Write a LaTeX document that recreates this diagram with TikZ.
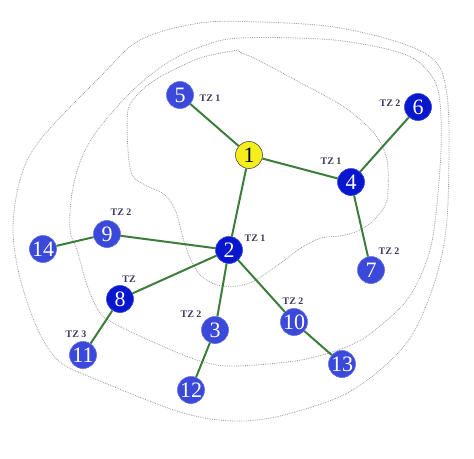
\documentclass[tikz,border=0pt]{standalone}
\usepackage{fontspec}
\setmainfont{Liberation Serif}
\definecolor{darkblue}{HTML}{0816CE}
\definecolor{lightblue}{HTML}{3B49DB}
\definecolor{nodeyellow}{HTML}{F4EE1C}
\definecolor{edgegreen}{HTML}{3C7D3A}
\definecolor{tzcolor}{HTML}{3A3A5C}
\definecolor{curvegray}{HTML}{9C9C9C}
\tikzset{
  base/.style={circle, minimum size=27pt, inner sep=0pt, font=\fontsize{22}{22}\selectfont, text=white, line width=0.6pt},
  dnode/.style={base, fill=darkblue, draw=darkblue!80!white},
  lnode/.style={base, fill=lightblue, draw=lightblue!80!white},
  ynode/.style={base, fill=nodeyellow, draw=black!70, text=black},
  tz/.style={font=\fontsize{10}{10}\selectfont\bfseries, text=tzcolor, inner sep=0pt},
  edge/.style={draw=edgegreen, line width=2pt},
  region/.style={draw=curvegray, densely dotted, line width=0.8pt}
}
\begin{document}
\begin{tikzpicture}[x=1pt,y=-1pt]
\useasboundingbox (0,0) rectangle (474,458);
% region contours
\draw[region] plot[smooth cycle, tension=0.55] coordinates {(13,230) (20,180) (40,140) (100,77) (140,40) (200,23) (260,22) (334,27) (401,43) (436,62) (447,95) (449,150) (446,230) (432,290) (405,345) (351,391) (284,415) (234,421) (180,412) (100,381) (60,362) (38,330) (20,278)};
\draw[region] plot[smooth cycle, tension=0.55] coordinates {(70,230) (72,193) (82,157) (100,127) (133,90) (167,63) (200,47) (240,38) (334,40) (401,53) (427,70) (439,95) (441,150) (434,230) (424,268) (407,300) (380,326) (351,345) (301,360) (234,366) (200,361) (160,345) (117,325) (100,313) (87,285) (77,250)};
\draw[region] plot[smooth, tension=0.5] coordinates {(241,53) (256,59) (301,83) (344,107) (374,133) (387,160) (387,200) (374,220) (358,231) (340,236) (321,238) (301,248) (274,268) (254,281) (238,286) (217,285) (200,275) (190,258) (183,238) (176,212) (165,195) (145,185) (132,175) (128,150) (128,110) (140,92) (160,77) (200,58) (238,50)} -- cycle;
% nodes
\node[ynode] (n1) at (249,155) {1};
\node[dnode] (n2) at (229,250) {2};
\node[lnode] (n3) at (215,330) {3};
\node[dnode] (n4) at (351,182) {4};
\node[lnode] (n5) at (180,95) {5};
\node[dnode] (n6) at (418,107) {6};
\node[lnode] (n7) at (371,270) {7};
\node[dnode] (n8) at (120,299) {8};
\node[lnode] (n9) at (107,234) {9};
\node[lnode] (n10) at (294,322) {10};
\node[lnode] (n11) at (83,355) {11};
\node[lnode] (n12) at (191,390) {12};
\node[lnode] (n13) at (342,364) {13};
\node[lnode] (n14) at (43,249) {14};
% labels
\node[tz] (t5) at (210,98) {TZ 1};
\node[tz] (t6) at (390,103) {TZ 2};
\node[tz] (t4) at (331,161) {TZ 1};
\node[tz] (t9) at (121,212) {TZ 2};
\node[tz] (t2) at (255,238) {TZ 1};
\node[tz] (t7) at (389,251) {TZ 2};
\node[tz] (t8) at (129,279) {TZ};
\node[tz] (t3) at (191,314) {TZ 2};
\node[tz] (t10) at (293,301) {TZ 2};
\node[tz] (t11) at (76,334) {TZ 3};
% edges
\path[edge] (n5) -- (n1);
\path[edge] (n1) -- (n4);
\path[edge] (n4) -- (n6);
\path[edge] (n4) -- (n7);
\path[edge] (n1) -- (n2);
\path[edge] (n2) -- (n9);
\path[edge] (n9) -- (n14);
\path[edge] (n2) -- (n8);
\path[edge] (n8) -- (n11);
\path[edge] (n2) -- (n3);
\path[edge] (n3) -- (n12);
\path[edge] (n2) -- (n10);
\path[edge] (n10) -- (n13);
\end{tikzpicture}
\end{document}
